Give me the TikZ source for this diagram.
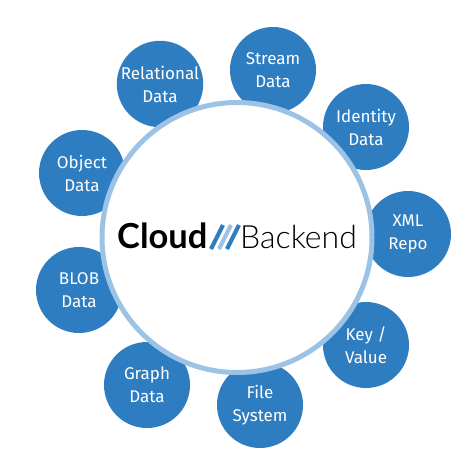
\documentclass[tikz,border=0pt]{standalone}
\usepackage{fontspec}
\setmainfont{Fira Sans}
\newfontfamily\logoboldfont{Lato}[UprightFont=* Bold]
\newfontfamily\logolightfont{Lato}[UprightFont=* Light]
\definecolor{satfill}{HTML}{2F7DC1}
\definecolor{ringcol}{HTML}{9CC3E6}
\definecolor{slashdark}{HTML}{2F7DC1}
\definecolor{slashlight}{HTML}{9CC3E6}
\tikzset{
  sat/.style={circle,fill=satfill,draw=none,minimum size=86pt,inner sep=0pt,text=white,align=center,
    font=\fontsize{17}{23}\selectfont},
  hub/.style={circle,fill=white,draw=ringcol,line width=5pt,minimum size=270pt,inner sep=0pt},
  slash/.style={line width=4.2pt}
}
\begin{document}
\begin{tikzpicture}[x=1pt,y=-1pt]
\useasboundingbox (0,0) rectangle (474,474);
\fill[white] (0,0) rectangle (474,474);
\node[sat] (rel) at (160,84) {Relational\\Data};
\node[sat] (stream) at (273,70) {Stream\\Data};
\node[sat] (ident) at (366,127) {Identity\\Data};
\node[sat] (xml) at (408,234) {XML\\Repo};
\node[sat] (key) at (366,345) {Key /\\Value};
\node[sat] (file) at (260,405) {File\\System};
\node[sat] (graph) at (147,385) {Graph\\Data};
\node[sat] (blob) at (79,290) {BLOB\\Data};
\node[sat] (obj) at (82,173) {Object\\Data};
\node[hub] (hub) at (237,237.5) {};
\node[inner sep=0pt,anchor=base west,font=\fontsize{34.5}{34.5}\logoboldfont,text=black] (cloud) at (117,248) {Cloud};
\node[inner sep=0pt,anchor=base west,font=\fontsize{32}{32}\logolightfont,text=black] (backend) at (240,248) {Backend};
\coordinate (s1a) at (211,249); \coordinate (s1b) at (223,225);
\coordinate (s2a) at (219,249); \coordinate (s2b) at (231,225);
\coordinate (s3a) at (227,249); \coordinate (s3b) at (239,225);
\draw[slash,slashdark] (s1a) -- (s1b);
\draw[slash,slashlight] (s2a) -- (s2b);
\draw[slash,slashdark] (s3a) -- (s3b);
\end{tikzpicture}
\end{document}
